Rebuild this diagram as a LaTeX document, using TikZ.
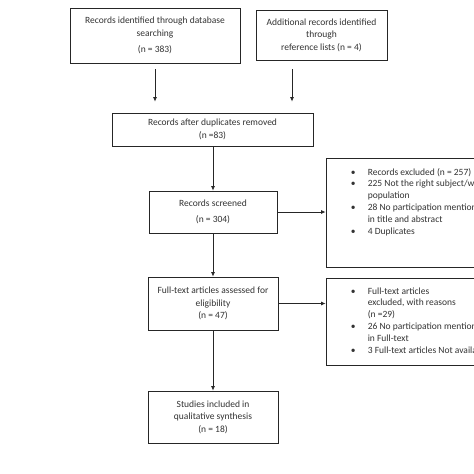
\documentclass[tikz,border=0pt]{standalone}
\usepackage{fontspec}
\setmainfont{Carlito}
\usetikzlibrary{arrows.meta,calc}
\begin{document}
\begin{tikzpicture}[x=1pt,y=-1pt,
  box/.style={draw=black!85,line width=0.8pt,text=black!80,align=center,inner sep=0pt,
    font=\fontsize{9.5}{12.5}\selectfont},
  arr/.style={draw=black!85,line width=0.8pt,-{Latex[length=4.5pt,width=4pt]}},
  lst/.style={text=black!80,font=\fontsize{9.5}{11.8}\selectfont,anchor=north west,inner sep=0pt,align=left}]
\useasboundingbox (0,0) rectangle (474,474);
\clip (0,0) rectangle (474,474);
\fill[white] (0,0) rectangle (474,474);
\node[box,minimum width=170pt,minimum height=55pt] (b1) at (155,35.5)
  {Records identified through database\\searching\\[4pt](n = 383)};
\node[box,minimum width=131pt,minimum height=50pt] (b2) at (321.5,35)
  {Additional records identified\\through\\reference lists (n = 4)};
\node[box,minimum width=201pt,minimum height=33pt] (b3) at (212.5,129.5)
  {Records after duplicates removed\\(n =83)};
\node[box,minimum width=128pt,minimum height=42pt] (b4) at (213,212)
  {Records screened\\[3pt](n = 304)};
\node[box,minimum width=130pt,minimum height=53pt] (b5) at (213,303.5)
  {Full-text articles assessed for\\eligibility\\(n = 47)};
\node[box,minimum width=130pt,minimum height=52pt] (b6) at (213,417)
  {Studies included in\\qualitative synthesis\\(n = 18)};
\node[box,minimum width=174pt,minimum height=109pt] (e1) at (413,212.5) {};
\node[box,minimum width=174pt,minimum height=87pt] (e2) at (413,321.5) {};
\node[lst] (t1) at ($(e1.north west)+(25,9)$) {%
  \begin{tabular}{@{}p{17pt}@{}l@{}}
  \textbullet & Records excluded (n = 257)\\
  \textbullet & 225 Not the right subject/wrong\\
  & population\\
  \textbullet & 28 No participation mentioned\\
  & in title and abstract\\
  \textbullet & 4 Duplicates
  \end{tabular}};
\node[lst] (t2) at ($(e2.north west)+(25,8)$) {%
  \begin{tabular}{@{}p{17pt}@{}l@{}}
  \textbullet & Full-text articles\\
  & excluded, with reasons\\
  & (n =29)\\
  \textbullet & 26 No participation mentioned\\
  & in Full-text\\
  \textbullet & 3 Full-text articles Not available
  \end{tabular}};
\draw[arr,shorten <=6pt,shorten >=11pt] (b1.south) -- (b1.south |- b3.north);
\draw[arr,shorten <=9pt,shorten >=11pt] (b2.south -| 292,0) -- (b3.north -| 292,0);
\draw[arr] (b3.south -| b4) -- (b4.north);
\draw[arr] (b4.south) -- (b5.north);
\draw[arr] (b5.south) -- (b6.north);
\draw[arr] (b4.east) -- (b4.east -| e1.west);
\draw[arr] (b5.east) -- (b5.east -| e2.west);
\end{tikzpicture}
\end{document}
